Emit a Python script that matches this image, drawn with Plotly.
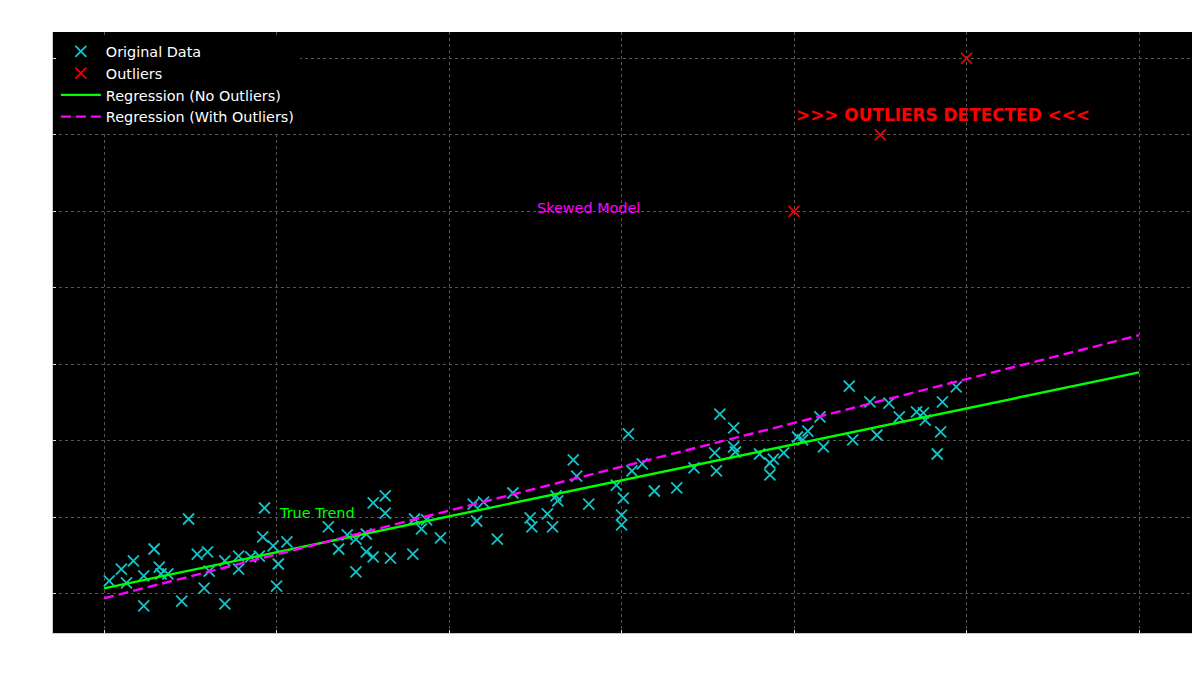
import plotly.graph_objects as go

# data
x_data = [0.03, 0.10, 0.13, 0.17, 0.23, 0.23, 0.29, 0.32, 0.33, 0.37,
          0.45, 0.49, 0.54, 0.58, 0.60, 0.61, 0.70, 0.70, 0.78, 0.78,
          0.85, 0.90, 0.92, 0.93, 0.98, 1.00, 1.01, 1.06,
          1.30, 1.36, 1.41, 1.46, 1.46, 1.52, 1.52, 1.56, 1.56, 1.63,
          1.63, 1.66, 1.79, 1.80, 1.84, 1.87, 1.95, 2.14, 2.16, 2.20,
          2.28, 2.37, 2.47, 2.48,
          2.57, 2.60, 2.62, 2.63, 2.72, 2.74, 2.81, 2.97, 3.00, 3.00,
          3.01, 3.04, 3.06, 3.12, 3.19, 3.32, 3.42, 3.54, 3.55, 3.57,
          3.65, 3.65, 3.66, 3.80,
          3.86, 3.86, 3.88, 3.94, 4.02, 4.05, 4.08, 4.15, 4.17, 4.32,
          4.34, 4.44, 4.48, 4.55, 4.61, 4.71, 4.75, 4.76, 4.83, 4.85,
          4.86, 4.94]
y_data = [0.85, 1.63, 0.72, 2.16, -0.78, 1.18, 2.94, 1.76, 1.31, 1.31,
          -0.46, 4.90, 2.61, 0.39, 2.75, 1.50, -0.65, 2.16, 2.48, 1.63,
          2.42, 2.48, 3.73, 5.62, 3.14, 0.52, 1.96, 3.40,
          4.38, 2.94, 3.86, 3.59, 1.44, 3.92, 2.75, 5.95, 2.42, 6.41,
          5.29, 2.35, 2.61, 4.90, 4.25, 4.84, 3.66, 5.88, 4.77, 6.01,
          3.59, 6.60, 4.97, 4.38,
          5.23, 4.38, 6.41, 6.08, 8.76, 7.71, 5.88, 7.12, 5.16, 4.51,
          6.27, 10.46, 8.04, 8.50, 6.73, 6.93, 8.24, 9.22, 8.04, 11.76,
          10.85, 9.61, 9.28, 9.15,
          8.56, 7.78, 8.82, 9.22, 10.26, 10.07, 10.65, 11.57, 9.61, 13.59,
          10.07, 12.55, 10.39, 12.48, 11.57, 11.90, 11.83, 11.37, 9.15, 10.59,
          12.55, 13.53]

x_outliers = [4.0, 4.5, 5.0]
y_outliers = [25.0, 30.0, 35.0]

fit_x = [0, 6]
fit_clean = [0.37, 14.48]
fit_skewed = [-0.28, 16.91]

fig = go.Figure()

fig.add_trace(go.Scatter(
    x=x_data, y=y_data, mode="markers", name="Original Data",
    marker=dict(symbol="x-thin", size=11, color="#14c4c8",
                line=dict(width=1.8, color="#14c4c8")),
))
fig.add_trace(go.Scatter(
    x=x_outliers, y=y_outliers, mode="markers", name="Outliers",
    marker=dict(symbol="x-thin", size=11, color="#ee0000",
                line=dict(width=1.8, color="#ee0000")),
))
fig.add_trace(go.Scatter(
    x=fit_x, y=fit_clean, mode="lines", name="Regression (No Outliers)",
    line=dict(color="#00ff00", width=2.4),
))
fig.add_trace(go.Scatter(
    x=fit_x, y=fit_skewed, mode="lines", name="Regression (With Outliers)",
    line=dict(color="#ff00ff", width=2.4, dash="10px,5px"),
))

font = "DejaVu Sans"
fig.add_annotation(x=1.0, y=5.3, text="True Trend", showarrow=False,
                   xanchor="left", yanchor="middle",
                   font=dict(family=font, size=14.4, color="#00ff00"))
fig.add_annotation(x=2.5, y=25.2, text="Skewed Model", showarrow=False,
                   xanchor="left", yanchor="middle",
                   font=dict(family=font, size=14.4, color="#ff00ff"))
fig.add_annotation(x=4.0, y=31.3, text="<b>>>> OUTLIERS DETECTED <<<</b>",
                   showarrow=False, xanchor="left", yanchor="middle",
                   font=dict(family=font, size=16.9, color="#ff0000"))

axis_style = dict(
    showgrid=True, gridcolor="#555555", griddash="dot", gridwidth=1,
    zeroline=False, showticklabels=False,
    ticks="inside", ticklen=3, tickcolor="#dddddd",
    showline=True, linecolor="#cccccc", linewidth=1, mirror=False,
)

# the page body adds an 8px offset, so the figure is sized to fill the rest
fig.update_layout(
    width=1192, height=674,
    paper_bgcolor="white", plot_bgcolor="black",
    margin=dict(l=45, r=8, t=24, b=49),
    font=dict(family=font, color="white"),
    showlegend=True,
    legend=dict(x=0.0025, y=0.994, xanchor="left", yanchor="top",
                bgcolor="black", font=dict(family=font, size=14.4, color="white"),
                tracegroupgap=0, itemwidth=40),
)
fig.update_xaxes(range=[-0.296, 6.307], tickvals=[0, 1, 2, 3, 4, 5, 6], **axis_style)
fig.update_yaxes(range=[-2.55, 36.73], tickvals=[0, 5, 10, 15, 20, 25, 30, 35], **axis_style)

fig.write_html("out.html")
